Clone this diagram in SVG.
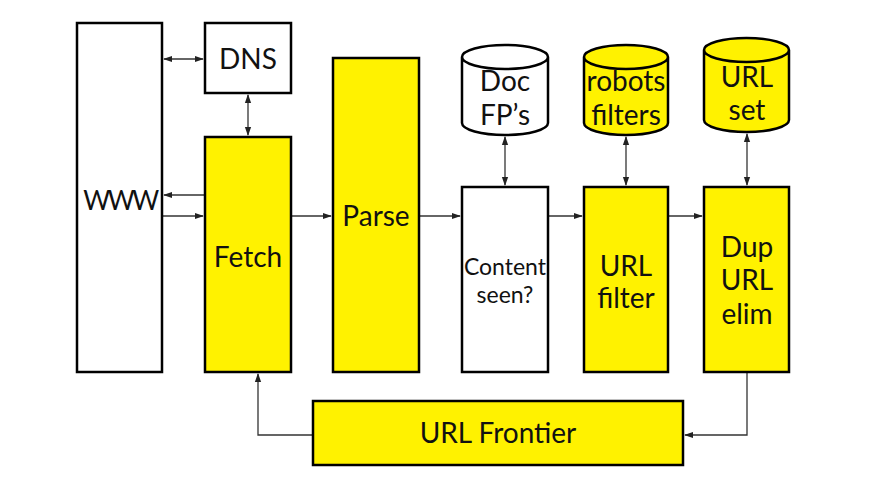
<svg xmlns="http://www.w3.org/2000/svg" width="882" height="485" viewBox="0 0 882 485">
<style>
.b{stroke:#000;stroke-width:2.5}
.y{fill:#fff200}.w{fill:#fff}
text{font-family:Lato,"Open Sans",sans-serif;font-size:28px;text-anchor:middle;fill:#111}
.c{stroke:#333;stroke-width:1.3;fill:none}
</style>
<defs>
<marker id="a" viewBox="0 0 10 10" refX="9" refY="5" markerWidth="7" markerHeight="7" orient="auto-start-reverse"><path d="M0,1.5L10,5L0,8.5z" fill="#222"/></marker>
</defs>
<rect width="882" height="485" fill="#fff"/>
<g id="conn" class="c">
<line x1="164" y1="59" x2="203" y2="59" marker-start="url(#a)" marker-end="url(#a)"/>
<line x1="248" y1="95" x2="248" y2="135" marker-start="url(#a)" marker-end="url(#a)"/>
<line x1="205" y1="195" x2="164" y2="195" marker-end="url(#a)"/>
<line x1="162" y1="216" x2="203" y2="216" marker-end="url(#a)"/>
<line x1="291" y1="216" x2="331" y2="216" marker-end="url(#a)"/>
<line x1="419" y1="216" x2="460" y2="216" marker-end="url(#a)"/>
<line x1="548" y1="216" x2="582" y2="216" marker-end="url(#a)"/>
<line x1="668" y1="216" x2="702" y2="216" marker-end="url(#a)"/>
<line x1="505" y1="137" x2="505" y2="185" marker-start="url(#a)" marker-end="url(#a)"/>
<line x1="626" y1="137" x2="626" y2="185" marker-start="url(#a)" marker-end="url(#a)"/>
<line x1="747" y1="134" x2="747" y2="185" marker-start="url(#a)" marker-end="url(#a)"/>
<polyline points="747,373 747,435 685,435" marker-end="url(#a)"/>
<polyline points="313,435 258,435 258,374" marker-end="url(#a)"/>
</g>
<g id="www"><rect class="b w" x="77" y="23" width="85" height="349"/><text x="120" y="210" style="font-size:26px;letter-spacing:-2.5px">WWW</text></g>
<g id="dns"><rect class="b w" x="205" y="23" width="86" height="70"/><text x="248" y="69">DNS</text></g>
<g id="fetch"><rect class="b y" x="205" y="137" width="86" height="235"/><text x="248" y="267">Fetch</text></g>
<g id="parse"><rect class="b y" x="333" y="58" width="86" height="314"/><text x="376" y="226">Parse</text></g>
<g id="content"><rect class="b w" x="462" y="187" width="86" height="185"/><text x="505" y="275" style="font-size:23px">Content</text><text x="505" y="303" style="font-size:23px">seen?</text></g>
<g id="urlfilter"><rect class="b y" x="584" y="187" width="84" height="185"/><text x="626" y="276">URL</text><text x="626" y="308">filter</text></g>
<g id="dup"><rect class="b y" x="704" y="187" width="85" height="185"/><text x="747" y="257">Dup</text><text x="747" y="290">URL</text><text x="747" y="324">elim</text></g>
<g id="frontier"><rect class="b y" x="313" y="401" width="370" height="64"/><text x="498" y="443">URL Frontier</text></g>
<g id="docfp"><path class="b w" d="M462,57 V123 A43,12 0 0 0 548,123 V57 A43,12 0 0 0 462,57 A43,12 0 0 0 548,57"/><text x="505" y="91">Doc</text><text x="505" y="125">FP’s</text></g>
<g id="robots"><path class="b y" d="M584,57 V123 A42,12 0 0 0 668,123 V57 A42,12 0 0 0 584,57 A42,12 0 0 0 668,57"/><text x="626" y="91">robots</text><text x="626" y="125">filters</text></g>
<g id="urlset"><path class="b y" d="M704,50 V120 A42.5,12 0 0 0 789,120 V50 A42.5,12 0 0 0 704,50 A42.5,12 0 0 0 789,50"/><text x="747" y="87">URL</text><text x="747" y="120">set</text></g>
</svg>
